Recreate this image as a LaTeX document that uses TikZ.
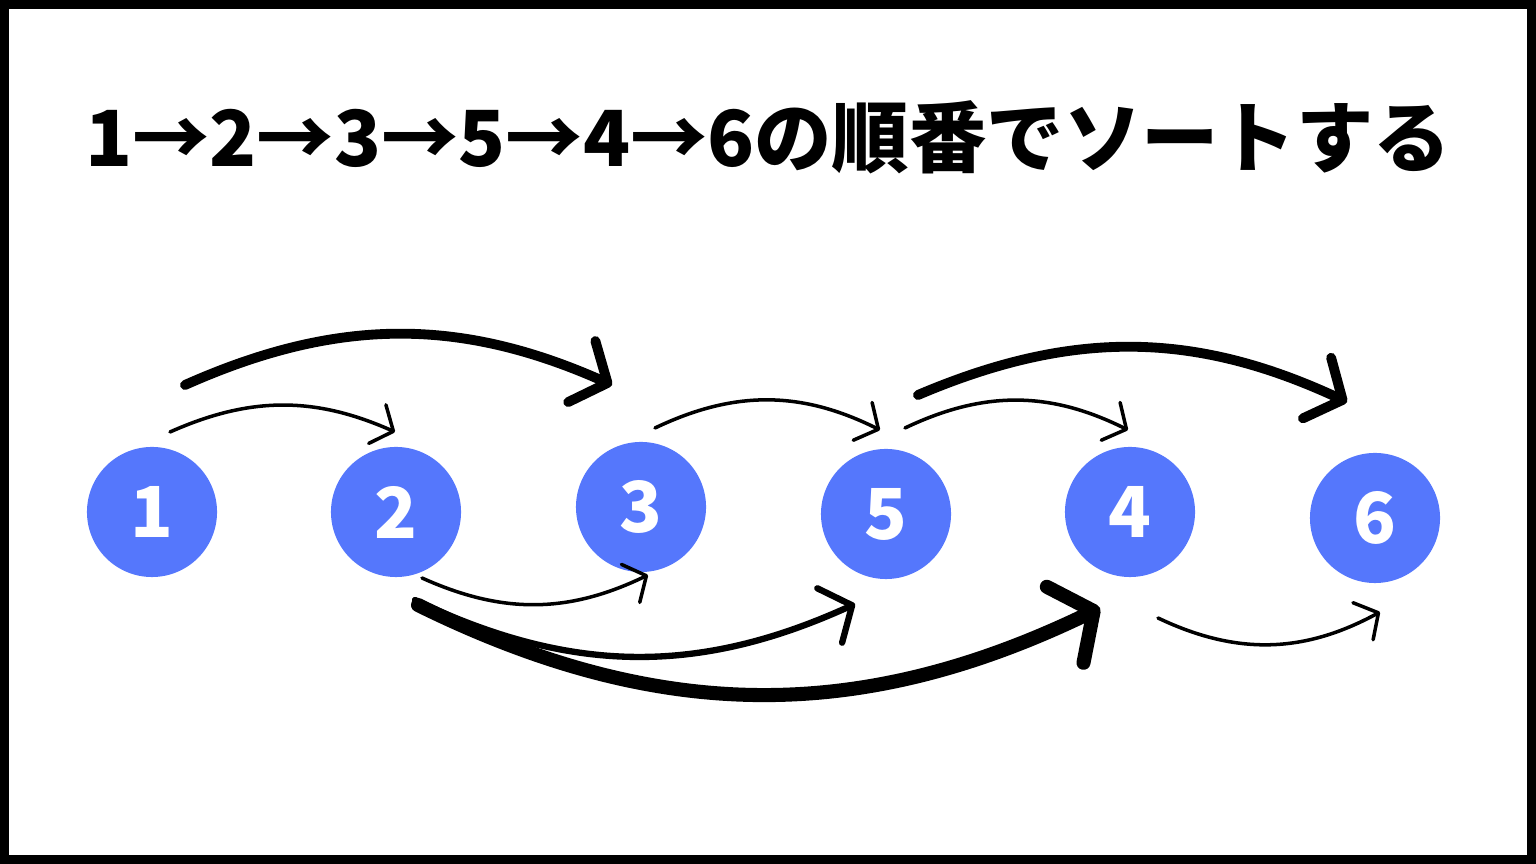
\documentclass[tikz,border=0pt]{standalone}
\usepackage{fontspec}
\newfontfamily\jp{Noto Sans CJK JP}
\usetikzlibrary{arrows.meta}
\definecolor{ballblue}{HTML}{5577FC}
\tikzset{
  ball/.style={circle,fill=ballblue,minimum size=1.3cm,inner sep=0pt,
    text=white,font=\jp\bfseries\fontsize{20}{20}\selectfont},
  thinarr/.style={line width=1pt,-{Straight Barb[round,length=5pt,width=12pt]}},
  midarr/.style={line width=1.8pt,-{Straight Barb[round,length=7pt,width=17pt]}},
  thickarr/.style={line width=2.8pt,-{Straight Barb[round,length=8pt,width=19pt]}},
  fatarr/.style={line width=4pt,-{Straight Barb[round,length=9pt,width=24pt]}},
}
\begin{document}
\begin{tikzpicture}[x=0.01cm,y=0.01cm,line cap=round,line join=round]
\useasboundingbox (0,0) rectangle (1536,864);
\draw[line width=5pt] (0,0) rectangle (1536,864);
\node[font=\jp\bfseries\fontsize{22}{22}\selectfont] (title) at (768,727)
  {1→2→3→5→4→6の順番でソートする};
% balls
\node[ball] (b1) at (152,352) {1};
\node[ball] (b2) at (396,352) {2};
\node[ball] (b3) at (641,357) {3};
\node[ball] (b5) at (886,350) {5};
\node[ball] (b4) at (1130,352) {4};
\node[ball] (b6) at (1375,346) {6};
% arrows above
\draw[thinarr] ([shift={(18,80)}]b1.center) to[bend left=24] ([shift={(-1,80)}]b2.center);
\draw[thickarr] ([shift={(33,127)}]b1.center) to[bend left=24] ([shift={(-29,122)}]b3.center);
\draw[thinarr] ([shift={(14,79)}]b3.center) to[bend left=26] ([shift={(-6,84)}]b5.center);
\draw[thinarr] ([shift={(19,86)}]b5.center) to[bend left=26] ([shift={(-2,82)}]b4.center);
\draw[thickarr] ([shift={(32,119)}]b5.center) to[bend left=24] ([shift={(-28,116)}]b6.center);
% arrows below
\draw[thinarr] ([shift={(26,-66)}]b2.center) to[bend right=25] ([shift={(7,-68)}]b3.center);
\draw[midarr] ([shift={(19,-88)}]b2.center) to[bend right=25] ([shift={(-31,-90)}]b5.center);
\draw[fatarr] ([shift={(22,-93)}]b2.center) to[bend right=26] ([shift={(-30,-96)}]b4.center);
\draw[thinarr] ([shift={(28,-106)}]b4.center) to[bend right=27] ([shift={(5,-94)}]b6.center);
\end{tikzpicture}
\end{document}
